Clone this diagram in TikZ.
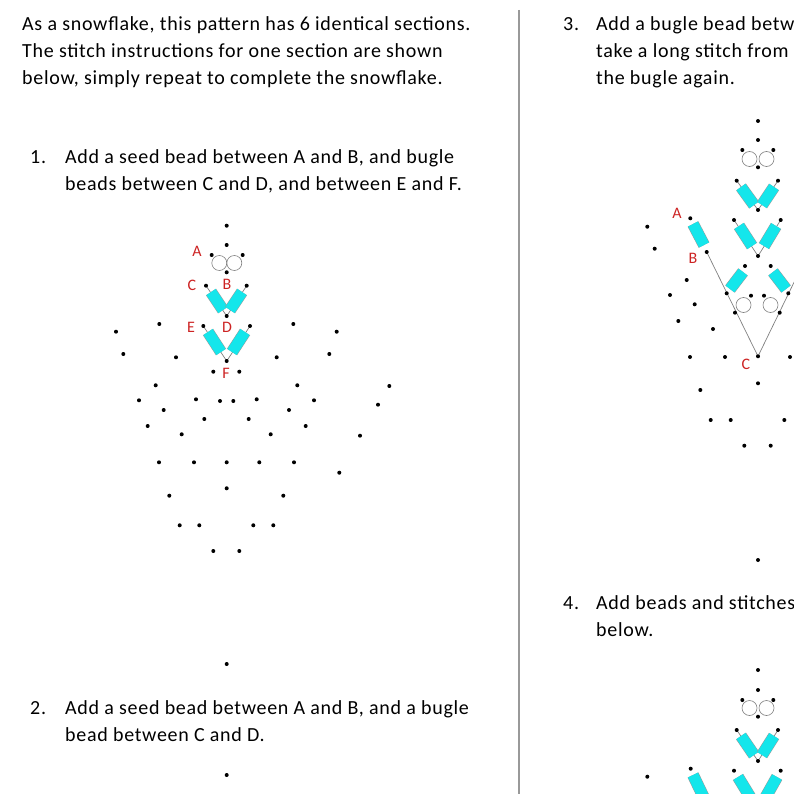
\documentclass[tikz,border=0pt]{standalone}
\usepackage{fontspec}
\setmainfont{Carlito}[LetterSpace=3.5]
\begin{document}
\begin{tikzpicture}[x=1pt,y=-1pt,
  txt/.style={anchor=base west,inner sep=0,font=\fontsize{20}{24}\selectfont},
  lab/.style={text=labred,inner sep=0,font=\fontsize{16}{18}\selectfont},
  bugle/.style={draw=gray!80,line width=0.5pt,double=bcyan,double distance=11pt},
  loop/.style={draw=gray,line width=0.6pt},
  thread/.style={draw=gray,line width=0.7pt}]
\definecolor{bcyan}{RGB}{20,230,235}
\definecolor{labred}{RGB}{205,35,35}
\useasboundingbox (0,0) rectangle (794,794);
\clip (0,0) rectangle (794,794);
\fill[white] (0,0) rectangle (794,794);
\draw[gray!80,line width=1.2pt] (519,10) -- (519,794);
% texts left
\node[txt] (t1) at (22,31) {As a snowflake, this pattern has 6 identical sections.};
\node[txt] (t2) at (22,58) {The stitch instructions for one section are shown};
\node[txt] (t3) at (22,85) {below, simply repeat to complete the snowflake.};
\node[txt] (n1) at (30,164) {1.};
\node[txt] (s1a) at (65,164) {Add a seed bead between A and B, and bugle};
\node[txt] (s1b) at (65,191) {beads between C and D, and between E and F.};
\node[txt] (n2) at (30,714) {2.};
\node[txt] (s2a) at (65,714) {Add a seed bead between A and B, and a bugle};
\node[txt] (s2b) at (65,741) {bead between C and D.};
% texts right
\node[txt] (n3) at (563,31) {3.};
\node[txt] (s3a) at (596,31) {Add a bugle bead between A and B, then};
\node[txt] (s3b) at (596,58) {take a long stitch from B to C and back through};
\node[txt] (s3c) at (596,85) {the bugle again.};
\node[txt] (n4) at (563,609) {4.};
\node[txt] (s4a) at (596,609) {Add beads and stitches as shown in the diagram};
\node[txt] (s4b) at (596,636) {below.};
% ---------- diagram 1 ----------
\draw[loop] (219.3,263) circle (7.5);
\draw[loop] (234.3,263) circle (7.5);
\draw[thread] (206,285.7) -- (226.7,316) -- (246.7,285.7);
\draw[thread] (203.3,326) -- (226.7,361) -- (250,326);
\draw[bugle] (211,292) -- (223,310);
\draw[bugle] (242,292) -- (230,310);
\draw[bugle] (208,332) -- (221,352);
\draw[bugle] (245,332) -- (232,352);
\foreach \p in {(226.7,225.7),(226.7,245),(211.7,255),(242.7,255),(226.7,272.3),(206,285.7),(246.7,285.7),(226.7,316),
(159.3,324),(116,331.7),(293.3,324),(336.7,331.7),(203.3,326),(250,326),(123.3,354),(176,357.3),(276.7,357.3),(329.3,354),
(226.7,361),(213.3,371.7),(239.3,371.7),(155.7,385.3),(297.3,385.3),(389.3,386),(139,400.3),(196,399.3),(220,401),(233.3,401),
(256.7,399.3),(314,400.3),(378,404.7),(163.7,410),(289,410),(204.3,419),(248.7,419),(147.7,426),(305.7,426),(181.7,434.3),
(270.7,434.3),(360,435.7),(159,462.3),(194,462.3),(226.7,462.3),(259.3,462.3),(294,462.3),(339.3,472.7),(226.7,488.3),
(169.3,495.7),(283.3,495.7),(179.7,525.3),(199.3,525.3),(253.3,525.3),(273.3,525.3),(213.3,551),(239.3,551),(226.7,664),(226.7,775)}
  \fill \p circle (2);
\node[lab] (A1) at (197,251) {A};
\node[lab] (B1) at (227,284) {B};
\node[lab] (C1) at (192,285) {C};
\node[lab] (D1) at (227,327) {D};
\node[lab] (E1) at (191,327) {E};
\node[lab] (F1) at (226,373) {F};
% ---------- diagram 3 ----------
\draw[loop] (749.5,159) circle (7.5);
\draw[loop] (766.5,159) circle (7.5);
\draw[loop] (743.5,305) circle (7.5);
\draw[loop] (770.5,305) circle (7.5);
\draw[thread] (736.7,180.7) -- (758,210) -- (778,180.7);
\draw[thread] (734,220) -- (758,256) -- (780.7,220);
\draw[thread] (706.7,252) -- (758,356.3) -- (800,270);
\draw[bugle] (741,187) -- (754,205);
\draw[bugle] (774,187) -- (762,205);
\draw[bugle] (739,226) -- (752,246);
\draw[bugle] (776,226) -- (764,246);
\draw[bugle] (693,224) -- (704,245);
\draw[bugle] (743,272) -- (730,289);
\draw[bugle] (773,272) -- (786,289);
\foreach \p in {(758,121),(758,140),(742.3,150),(773.3,150),(758,167.3),(736.7,180.7),(778,180.7),(758,210),
(690.3,218.3),(647.3,226.7),(654.7,248.7),(706.7,252),(734,220),(780.7,220),(758,256),(745,266),(770.7,266),
(726.7,293.3),(788.3,293.3),(751,295.7),(764,295.7),(735,312.7),(779.7,312.7),(686.7,280),(670,295),(694.7,304.3),
(678.3,321),(713,329),(690,357),(725,357),(758,356.3),(790,357),(758,383.3),(700.3,390),(710.7,420),(730.7,420),
(784.3,420),(744.3,445.7),(770.7,445.7),(758,560)}
  \fill \p circle (2);
\node[lab] (A3) at (677,213) {A};
\node[lab] (B3) at (693,258) {B};
\node[lab] (C3) at (746,364) {C};
% ---------- diagram 4 ----------
\draw[loop] (749.5,708) circle (7.5);
\draw[loop] (766.5,708) circle (7.5);
\draw[thread] (736.7,730) -- (758,761) -- (778,730);
\draw[bugle] (741,736) -- (754,755);
\draw[bugle] (774,736) -- (762,755);
\draw[bugle] (693,775) -- (705,800);
\draw[bugle] (738,777) -- (752,800);
\draw[bugle] (777,777) -- (764,800);
\foreach \p in {(758,670),(758,690),(742.3,700),(773.3,700),(758,716.7),(736.7,730),(778,730),(758,761),
(647.3,776.7),(690.7,768.7),(734,770.7),(780.7,770.7)}
  \fill \p circle (2);
\end{tikzpicture}
\end{document}
